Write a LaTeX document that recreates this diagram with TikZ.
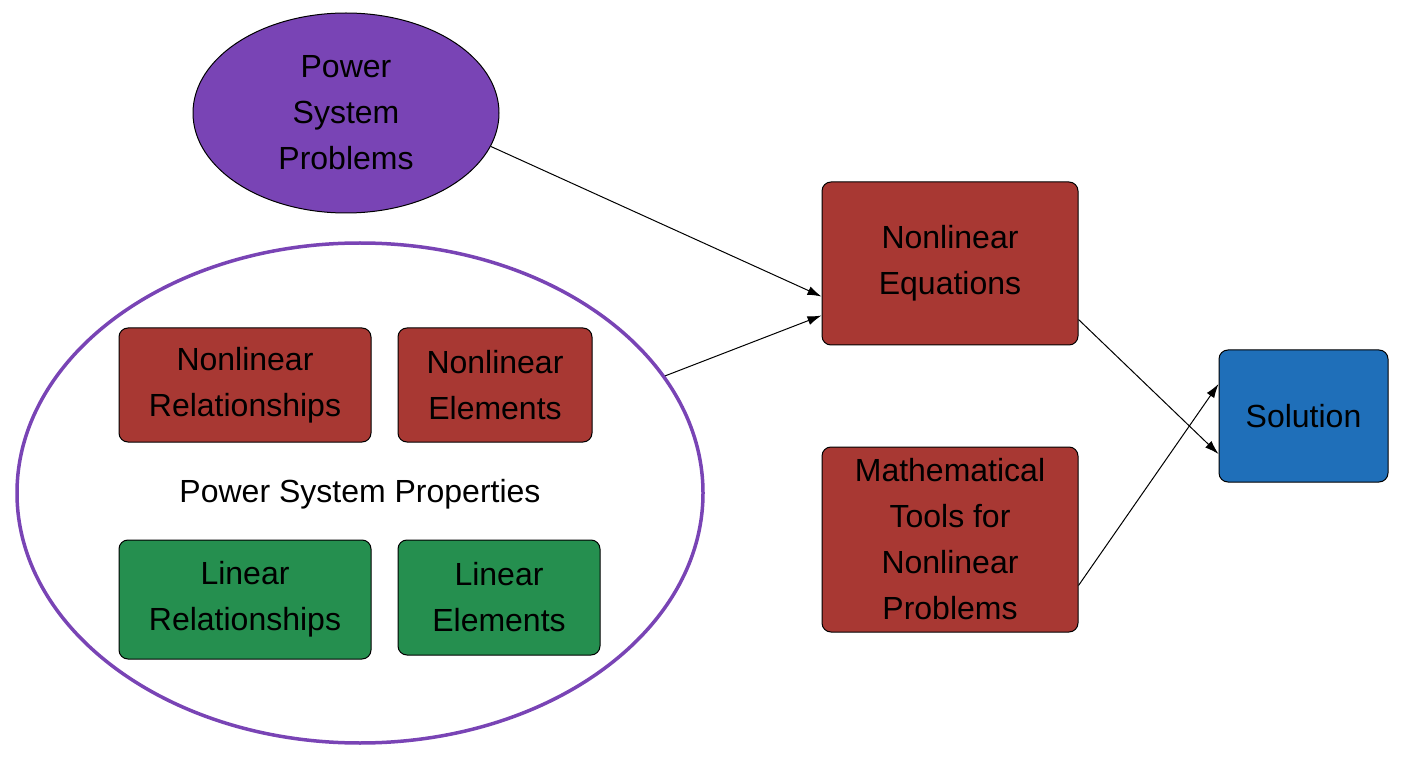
\documentclass[tikz,border=0pt]{standalone}
\usepackage{fontspec}
\setmainfont{Liberation Sans}
\usetikzlibrary{shapes.geometric,arrows.meta}
\definecolor{cpur}{HTML}{7944B5}
\definecolor{cred}{HTML}{A83833}
\definecolor{cgrn}{HTML}{258F4F}
\definecolor{cblu}{HTML}{1F6FB9}
\begin{document}
\begin{tikzpicture}[x=1pt,y=-1pt,
  txt/.style={font=\fontsize{32}{46}\selectfont,align=center,text=black},
  box/.style={txt,draw=black,line width=1pt,rounded corners=9pt,inner sep=0pt},
  arr/.style={-{Latex[length=14pt,width=9pt]},line width=1pt}]
\useasboundingbox (0,0) rectangle (1401,759);
\node[txt,ellipse,draw=black,line width=1pt,fill=cpur,minimum width=306pt,minimum height=200pt,inner sep=0pt] (psp) at (346,113) {Power\\System\\Problems};
\node[ellipse,draw=cpur,line width=3.5pt,minimum width=686pt,minimum height=500pt] (pp) at (360,493) {};
\node[txt] (ppl) at (360,494) {Power System Properties};
\node[box,fill=cred,minimum width=252pt,minimum height=114pt] (nr) at (245,385) {Nonlinear\\Relationships};
\node[box,fill=cred,minimum width=194pt,minimum height=114pt] (nel) at (495,385) {Nonlinear\\Elements};
\node[box,fill=cgrn,minimum width=252pt,minimum height=119pt] (lr) at (245,599.5) {Linear\\Relationships};
\node[box,fill=cgrn,minimum width=202pt,minimum height=115pt] (le) at (499,597.5) {Linear\\Elements};
\node[box,fill=cred,minimum width=256pt,minimum height=163pt] (ne) at (950,263.5) {Nonlinear\\Equations};
\node[box,fill=cred,minimum width=256pt,minimum height=185pt] (mt) at (950,539.5) {Mathematical\\Tools for\\Nonlinear\\Problems};
\node[box,fill=cblu,minimum width=169pt,minimum height=132pt] (so) at (1303.5,416) {Solution};
\draw[arr] (psp.-13) -- ([yshift=-33pt]ne.west);
\draw[arr] (pp.21) -- ([yshift=-52pt]ne.west);
\draw[arr] ([yshift=-56pt]ne.east) -- ([yshift=-38pt]so.west);
\draw[arr] ([yshift=-46pt]mt.east) -- ([yshift=32pt]so.west);
\end{tikzpicture}
\end{document}
